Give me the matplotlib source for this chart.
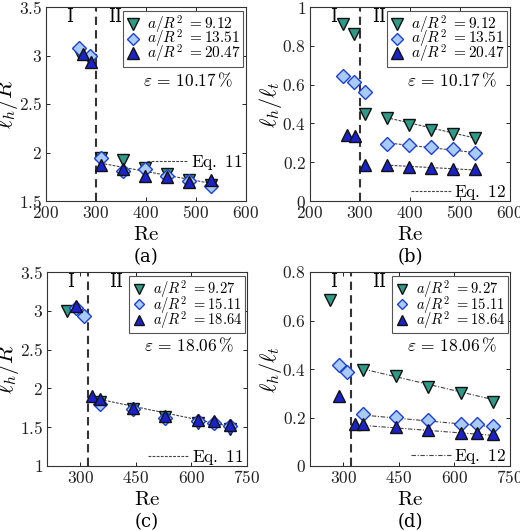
import numpy as np
import matplotlib
matplotlib.use("Agg")
import matplotlib.pyplot as plt
from matplotlib.ticker import FuncFormatter, MultipleLocator

plt.rcParams['mathtext.fontset'] = 'cm'
plt.rcParams['font.family'] = 'serif'
plt.rcParams['font.serif'] = ['DejaVu Serif']

# ---- panel (a) / (b): eps = 10.17 %
re_912 = [265, 287, 309, 353, 397, 441, 485, 529]
re_1351 = [265, 287, 309, 353, 397, 441, 485, 529]
re_2047 = [273, 289, 309, 353, 397, 441, 485, 529]
lhR_912 = [3.03, 2.95, 1.94, 1.92, 1.84, 1.78, 1.72, 1.67]
lhR_1351 = [3.08, 2.99, 1.94, 1.81, 1.83, 1.76, 1.71, 1.65]
lhR_2047 = [3.02, 2.93, 1.87, 1.83, 1.76, 1.745, 1.70, 1.715]
lhlt_912 = [0.91, 0.86, 0.45, 0.43, 0.39, 0.368, 0.344, 0.325]
lhlt_1351 = [0.646, 0.612, 0.56, 0.296, 0.29, 0.278, 0.27, 0.248]
lhlt_2047 = [0.342, 0.333, 0.185, 0.185, 0.173, 0.168, 0.164, 0.163]

eq11_a_re = [309, 532]
eq11_a = [1.89, 1.68]
eq12_b_re = [353, 529]
eq12_b_912 = [0.43, 0.325]
eq12_b_1351 = [0.30, 0.25]
eq12_b_2047 = [0.185, 0.16]

# ---- panel (c) / (d): eps = 18.06 %
re_927 = [265, 353, 441, 529, 617, 705]
re_1511 = [287, 309, 353, 441, 529, 617, 661, 705]
re_1864 = [287, 331, 353, 441, 529, 617, 661, 705]
lhR_927 = [3.0, 1.82, 1.74, 1.63, 1.56, 1.48]
lhR_1511 = [3.04, 2.93, 1.80, 1.73, 1.62, 1.58, 1.55, 1.52]
lhR_1864 = [3.06, 1.90, 1.86, 1.75, 1.65, 1.59, 1.575, 1.53]
lhlt_927 = [0.685, 0.397, 0.37, 0.326, 0.299, 0.264]
lhlt_1511 = [0.415, 0.387, 0.214, 0.202, 0.189, 0.175, 0.173, 0.167]
lhlt_1864 = [0.287, 0.175, 0.173, 0.159, 0.148, 0.138, 0.138, 0.131]

eq11_c_re = [331, 715]
eq11_c = [1.88, 1.50]
eq12_d_re_927 = [353, 715]
eq12_d_927 = [0.40, 0.27]
eq12_d_re_1511 = [353, 715]
eq12_d_1511 = [0.21, 0.16]
eq12_d_re_1864 = [331, 715]
eq12_d_1864 = [0.17, 0.125]

labels_top = [r'$a/R^2\ {=}9.12$', r'$a/R^2\ {=}13.51$', r'$a/R^2\ {=}20.47$']
labels_bot = [r'$a/R^2\ = 9.27$', r'$a/R^2\ = 15.11$', r'$a/R^2\ = 18.64$']

teal = '#2f9a86'
light = '#a9cbf7'
blue_edge = '#1f3fd0'
dark_blue = '#1a22c8'
edge = '#111111'
eq_col = '#444444'

fig = plt.figure(figsize=(5.2, 5.31), dpi=100)
W, H = 520.0, 531.0
def add_ax(l, t):
    return fig.add_axes([l / W, 1 - (t + 194) / H, 200 / W, 194 / H])

ax_a = add_ax(46, 7)
ax_b = add_ax(310, 7)
ax_c = add_ax(47, 272)
ax_d = add_ax(310, 272)

fmt = FuncFormatter(lambda v, p: r'$%g$' % round(v, 3))


def draw_series(ax, xs, ys, ms, leg_ms, labels, fs, lsp):
    styles = [
        dict(marker='v', mfc=teal, mec=edge),
        dict(marker='D', mfc=light, mec=blue_edge),
        dict(marker='^', mfc=dark_blue, mec=edge),
    ]
    handles = []
    for x, y, st, lab in zip(xs, ys, styles, labels):
        size = ms * 0.8 if st['marker'] == 'D' else ms
        ax.plot(x, y, ls='none', marker=st['marker'], ms=size,
                mfc=st['mfc'], mec=st['mec'], mew=1.0, zorder=3)
        lsize = leg_ms * 0.75 if st['marker'] == 'D' else leg_ms
        h, = ax.plot([], [], ls='none', marker=st['marker'], ms=lsize,
                     mfc=st['mfc'], mec=st['mec'], mew=1.0, label=lab)
        handles.append(h)
    leg = ax.legend(handles=handles, loc='upper right', bbox_to_anchor=(0.995, 0.985),
                    fontsize=fs, frameon=True, fancybox=False, edgecolor='#555555',
                    framealpha=1.0, handletextpad=0.45, borderpad=0.15, labelspacing=lsp,
                    handlelength=1.0, borderaxespad=0.1)
    leg.get_frame().set_linewidth(0.8)
    ax.add_artist(leg)


def style_axis(ax, xlim, ylim, xstep, ystep, ylabel, vline, eps, tag, eqy, eqhandle, eqlabel):
    ax.set_xlim(*xlim)
    ax.set_ylim(*ylim)
    ax.xaxis.set_major_locator(MultipleLocator(xstep))
    ax.yaxis.set_major_locator(MultipleLocator(ystep))
    ax.xaxis.set_major_formatter(fmt)
    ax.yaxis.set_major_formatter(fmt)
    ax.tick_params(direction='in', top=True, right=True, labelsize=12.5, length=3,
                   width=0.7, colors='#222222', pad=3)
    for s in ax.spines.values():
        s.set_color('#333333')
        s.set_linewidth(0.8)
    ax.axvline(vline, color='#333333', ls=(0, (4, 2.5)), lw=1.5, zorder=2)
    ax.set_ylabel(ylabel, fontsize=16)
    ax.yaxis.set_label_coords(-0.13, 0.5)
    ax.set_xlabel(r'$\mathrm{Re}$', fontsize=15)
    ax.xaxis.set_label_coords(0.5, -0.125)
    ax.text(0.5, -0.29, tag, transform=ax.transAxes, ha='center', va='center', fontsize=13)
    ax.text(0.71, 0.62, eps, transform=ax.transAxes, ha='center', va='center', fontsize=12.5)
    ax.text(0.12, 0.95, 'I', transform=ax.transAxes, ha='center', va='center', fontsize=13)
    ax.text(0.345, 0.95, 'II', transform=ax.transAxes, ha='center', va='center', fontsize=13)
    ax.legend(handles=[eqhandle], labels=[eqlabel], loc='center right', bbox_to_anchor=(1.0, eqy),
              frameon=False, fontsize=12.5, handlelength=2.3, handletextpad=0.2,
              borderaxespad=0.1, borderpad=0.1)


eq_kw = dict(color=eq_col, lw=0.8, ls=(0, (2.5, 1.2)), zorder=2.5)
eqd_kw = dict(color=eq_col, lw=0.8, ls=(0, (4, 1.5, 1, 1.5)), zorder=2.5)

# (a)
h_a, = ax_a.plot(eq11_a_re, eq11_a, **eq_kw)
draw_series(ax_a, [re_912, re_1351, re_2047], [lhR_912, lhR_1351, lhR_2047], 9, 8.5,
            labels_top, 11, -0.5)
style_axis(ax_a, (200, 600), (1.5, 3.5), 100, 0.5, r'$\ell_h/R$', 300,
           r'$\varepsilon\, =\, 10.17\,\%$', '(a)', 0.196, h_a, r'$\mathrm{Eq.\ 11}$')

# (b)
h_b, = ax_b.plot(eq12_b_re, eq12_b_912, **eq_kw)
ax_b.plot(eq12_b_re, eq12_b_1351, **eq_kw)
ax_b.plot(eq12_b_re, eq12_b_2047, **eq_kw)
draw_series(ax_b, [re_912, re_1351, re_2047], [lhlt_912, lhlt_1351, lhlt_2047], 9, 8.5,
            labels_top, 11, -0.5)
style_axis(ax_b, (200, 600), (0, 1), 100, 0.2, r'$\ell_h/\ell_t$', 300,
           r'$\varepsilon\, =\, 10.17\,\%$', '(b)', 0.045, h_b, r'$\mathrm{Eq.\ 12}$')

# (c)
h_c, = ax_c.plot(eq11_c_re, eq11_c, **eq_kw)
draw_series(ax_c, [re_927, re_1511, re_1864], [lhR_927, lhR_1511, lhR_1864], 9, 6.5,
            labels_bot, 10.5, -0.45)
style_axis(ax_c, (210, 750), (1, 3.5), 150, 0.5, r'$\ell_h/R$', 322,
           r'$\varepsilon\, =\, 18.06\,\%$', '(c)', 0.045, h_c, r'$\mathrm{Eq.\ 11}$')

# (d)
h_d, = ax_d.plot(eq12_d_re_927, eq12_d_927, **eqd_kw)
ax_d.plot(eq12_d_re_1511, eq12_d_1511, **eqd_kw)
ax_d.plot(eq12_d_re_1864, eq12_d_1864, **eqd_kw)
draw_series(ax_d, [re_927, re_1511, re_1864], [lhlt_927, lhlt_1511, lhlt_1864], 9, 6.5,
            labels_bot, 10.5, -0.45)
style_axis(ax_d, (210, 750), (0, 0.8), 150, 0.2, r'$\ell_h/\ell_t$', 322,
           r'$\varepsilon\, =\, 18.06\,\%$', '(d)', 0.05, h_d, r'$\mathrm{Eq.\ 12}$')

fig.savefig('out.png', dpi=100)
